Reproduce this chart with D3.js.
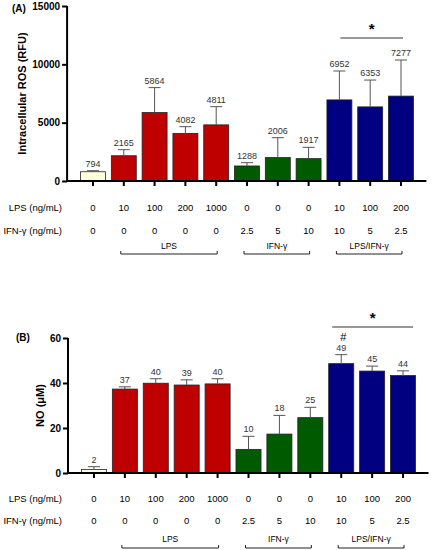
<!DOCTYPE html>
<html><head><meta charset="utf-8">
<script src="https://cdn.jsdelivr.net/npm/d3@7"></script>
<style>body{margin:0;background:#fff}svg{display:block;font-family:"Liberation Sans",Arial,sans-serif}</style>
</head><body>
<svg id="c" width="433" height="550"></svg>
<script>
const lpsDose = ["0","10","100","200","1000","0","0","0","10","100","200"];
const ifnDose = ["0","0","0","0","0","2.5","5","10","10","5","2.5"];
const groupOf = ["ctrl","LPS","LPS","LPS","LPS","IFN","IFN","IFN","MIX","MIX","MIX"];
const rosMean = [794,2165,5864,4082,4811,1288,2006,1917,6952,6353,7277];
const rosSD   = [90,520,2140,575,1560,283,1708,970,2477,2300,3094];
const rosTicks = [0,5000,10000,15000];
const noMean = [2,37,40,39,40,10,18,25,49,45,44];
const noSD   = [0.8,1.3,1.9,2.4,1.9,6.3,7.6,4.2,3.6,2.5,1.4];
const noBar  = [1.6,37.3,39.9,39.1,39.6,10.5,17.3,24.6,48.6,45.3,43.3];
const noTicks = [0,20,40,60];
const groups = [{name:"LPS",from:1,to:4},{name:"IFN-\u03b3",from:5,to:7},{name:"LPS/IFN-\u03b3",from:8,to:10}];
const colors = {ctrl:"#FFFFDC",LPS:"#BE0000",IFN:"#005A00",MIX:"#000080"};

const svg = d3.select("#c");
const idx = d3.range(lpsDose.length);

function panel(o){
  const g = svg.append("g");
  const x = d3.scaleBand().domain(idx).range(o.xr).paddingInner(0.19).paddingOuter(0.095);
  const y = d3.scaleLinear().domain([0,o.max]).range(o.yr);
  g.selectAll("rect.bar").data(idx).join("rect")
    .attr("x",i=>x(i)).attr("width",x.bandwidth())
    .attr("y",i=>y(o.bar[i])).attr("height",i=>y(0)-y(o.bar[i]))
    .attr("fill",i=>colors[groupOf[i]]).attr("stroke","#222").attr("stroke-width",0.8);
  const eb = g.selectAll("g.eb").data(idx).join("g").attr("stroke","#555").attr("stroke-width",1);
  eb.append("line").attr("x1",i=>x(i)+x.bandwidth()/2).attr("x2",i=>x(i)+x.bandwidth()/2)
    .attr("y1",i=>y(o.bar[i])).attr("y2",i=>y(o.mean[i]+o.sd[i]));
  eb.append("line").attr("x1",i=>x(i)+x.bandwidth()/2-6).attr("x2",i=>x(i)+x.bandwidth()/2+6)
    .attr("y1",i=>y(o.mean[i]+o.sd[i])).attr("y2",i=>y(o.mean[i]+o.sd[i]));
  g.selectAll("text.v").data(idx).join("text")
    .attr("x",i=>x(i)+x.bandwidth()/2).attr("y",i=>y(o.mean[i]+o.sd[i])-4)
    .attr("text-anchor","middle").attr("font-size",9).attr("fill","#333")
    .text(i=>o.mean[i]);
  const ya = g.append("g").attr("transform",`translate(${o.xr[0]-10.5},0)`)
    .call(d3.axisLeft(y).tickValues(o.ticks).tickFormat(d3.format("d")).tickSize(5).tickPadding(2));
  ya.select(".domain").attr("stroke-width",2).attr("d",`M0,${o.yr[1]}V${o.yr[0]}`);
  ya.selectAll(".tick line").attr("stroke-width",2);
  ya.selectAll(".tick text").attr("font-size",10).attr("font-weight","bold").attr("fill","#000").attr("font-family","Liberation Sans, Arial, sans-serif");
  const xa = g.append("g").attr("transform",`translate(0,${o.yr[0]})`)
    .call(d3.axisBottom(x).tickSize(5).tickFormat(""));
  xa.select(".domain").attr("stroke-width",2).attr("d",`M${o.xr[0]-11.5},0H${o.xr[1]+10}`);
  xa.selectAll(".tick line").attr("stroke-width",2);
  g.append("text").attr("transform",`translate(${o.ylx},${(o.yr[0]+o.yr[1])/2}) rotate(-90)`)
    .attr("text-anchor","middle").attr("dy","0.35em").attr("font-size",11).attr("font-weight","bold").text(o.ylab);
  g.append("text").attr("x",o.tagx).attr("y",o.tagy).attr("font-size",10).attr("font-weight","bold").text(o.tag);
  const rows = [{lab:"LPS (ng/mL)",vals:lpsDose,y:o.row1},{lab:"IFN-\u03b3 (ng/mL)",vals:ifnDose,y:o.row2}];
  rows.forEach(r=>{
    g.append("text").attr("x",62).attr("y",r.y).attr("dy","0.35em").attr("text-anchor","end").attr("font-size",9.5).text(r.lab);
    g.selectAll(null).data(idx).join("text").attr("x",i=>x(i)+x.bandwidth()/2).attr("y",r.y).attr("dy","0.35em")
      .attr("text-anchor","middle").attr("font-size",9.5).text(i=>r.vals[i]);
  });
  groups.forEach(gr=>{
    const a = x(gr.from)+x.bandwidth()/2-3, b = x(gr.to)+x.bandwidth()/2+1;
    g.append("path").attr("d",`M${a},${o.br-3}V${o.br}H${b}V${o.br-3}`).attr("fill","none").attr("stroke","#222").attr("stroke-width",1);
    g.append("text").attr("x",(a+b)/2).attr("y",o.gl).attr("dy","0.35em").attr("text-anchor","middle").attr("font-size",8.5).text(gr.name);
  });
  const s0 = x(8)+x.bandwidth()/2+o.sig[0], s1 = x(10)+x.bandwidth()/2+o.sig[1];
  g.append("line").attr("x1",s0).attr("x2",s1).attr("y1",o.sigy).attr("y2",o.sigy).attr("stroke","#333").attr("stroke-width",1);
  g.append("text").attr("x",(s0+s1)/2).attr("y",o.sigy-4).attr("text-anchor","middle").attr("font-size",15).attr("font-weight","bold").text("*");
  if(o.hash){
    g.append("text").attr("x",x(8)+x.bandwidth()/2+2).attr("y",o.hash).attr("dy","0.35em").attr("text-anchor","middle").attr("font-size",11).text("#");
  }
}

panel({xr:[77.6,416.4],yr:[181,6],max:15000,mean:rosMean,bar:rosMean,sd:rosSD,ticks:rosTicks,
  ylab:"Intracellular ROS (RFU)",ylx:22,tag:"(A)",tagx:12,tagy:12,row1:208,row2:231,gl:246,br:254,sig:[1,2],sigy:38});
panel({xr:[78.5,418.5],yr:[473,338],max:60,mean:noMean,bar:noBar,sd:noSD,ticks:noTicks,
  ylab:"NO (\u03bcM)",ylx:40,tag:"(B)",tagx:16,tagy:341,row1:499,row2:521,gl:539,br:548,sig:[-9,10],sigy:327,hash:337});
</script>
</body></html>
